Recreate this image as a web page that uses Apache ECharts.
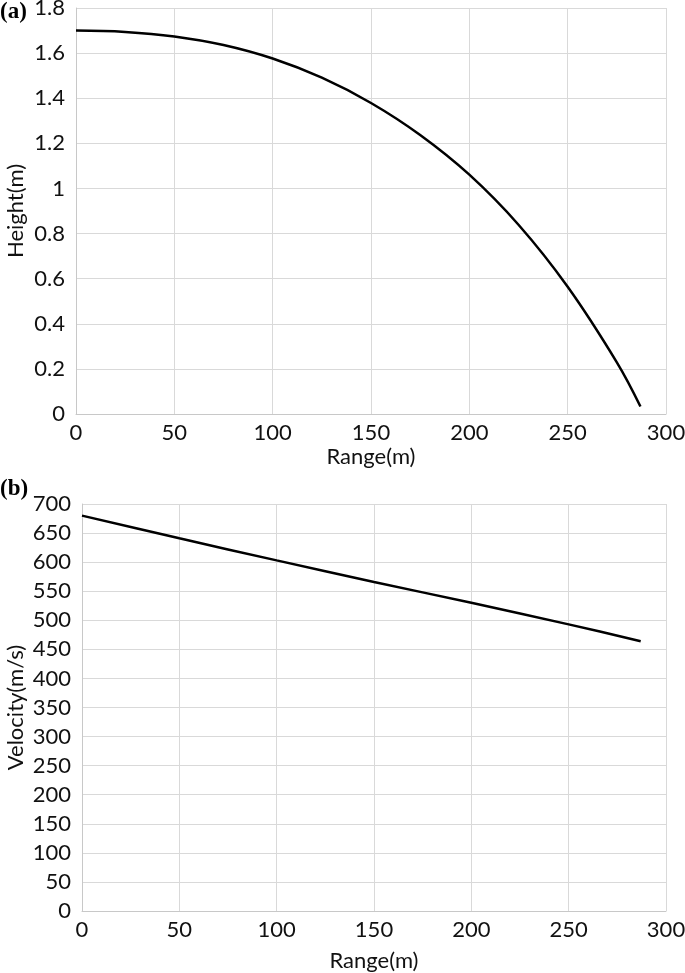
<!DOCTYPE html>
<html>
<head>
<meta charset="utf-8">
<script src="https://cdn.jsdelivr.net/npm/echarts@6/dist/echarts.min.js"></script>
<style>
html,body{margin:0;padding:0;background:#fff;}
#c{width:685px;height:973px;}
</style>
</head>
<body>
<div id="c"></div>
<script>
// Panel (a): height vs range
const heightRange = [0, 25, 50, 75, 100, 125, 150, 175, 200, 225, 250, 275, 287];
const heightVals  = [1.700, 1.694, 1.674, 1.636, 1.576, 1.491, 1.379, 1.237, 1.061, 0.839, 0.564, 0.229, 0.033];
// Panel (b): velocity vs range
const velRange = [0, 50, 100, 150, 200, 250, 287];
const velVals  = [680, 641, 603, 566, 530, 493, 464];

const FONT = 'Lato';
const FS = 22;
const gridLine = {show:true, lineStyle:{color:'#d9d9d9', width:1}};
const axLine = {show:true, lineStyle:{color:'#c8c8c8', width:1}};
const lbl = {color:'#111', fontFamily:FONT, fontSize:FS};
const nameStyle = {color:'#111', fontFamily:FONT, fontSize:FS};

const chart = echarts.init(document.getElementById('c'), null, {renderer:'canvas'});
chart.setOption({
  animation:false,
  backgroundColor:'#fff',
  grid:[
    {left:76, top:8, right:19, height:406, containLabel:false, outerBoundsMode:'none'},
    {left:82, top:504, right:19, height:407, containLabel:false, outerBoundsMode:'none'}
  ],
  xAxis:[
    {gridIndex:0, type:'value', min:0, max:300, interval:50,
     axisLine:axLine, axisTick:{show:false}, splitLine:gridLine,
     axisLabel:Object.assign({margin:8}, lbl), nameMoveOverlap:false,
     name:'Range(m)', nameLocation:'middle', nameGap:32, nameTextStyle:nameStyle},
    {gridIndex:1, type:'value', min:0, max:300, interval:50,
     axisLine:axLine, axisTick:{show:false}, splitLine:gridLine,
     axisLabel:Object.assign({margin:8}, lbl), nameMoveOverlap:false,
     name:'Range(m)', nameLocation:'middle', nameGap:39, nameTextStyle:nameStyle}
  ],
  yAxis:[
    {gridIndex:0, type:'value', min:0, max:1.8, interval:0.2,
     axisLine:axLine, axisTick:{show:false}, splitLine:gridLine,
     axisLabel:Object.assign({margin:11, formatter:v=>String(+v.toFixed(1))}, lbl), nameMoveOverlap:false,
     name:'Height(m)', nameLocation:'middle', nameGap:49, nameTextStyle:nameStyle},
    {gridIndex:1, type:'value', min:0, max:700, interval:50,
     axisLine:axLine, axisTick:{show:false}, splitLine:gridLine,
     axisLabel:Object.assign({margin:11}, lbl), nameMoveOverlap:false,
     name:'Velocity(m/s)', nameLocation:'middle', nameGap:55, nameTextStyle:nameStyle}
  ],
  series:[
    {type:'line', xAxisIndex:0, yAxisIndex:0, smooth:0.4, showSymbol:false,
     lineStyle:{color:'#000', width:2.5},
     data:heightRange.map((x,i)=>[x, heightVals[i]])},
    {type:'line', xAxisIndex:1, yAxisIndex:1, smooth:0.3, showSymbol:false,
     lineStyle:{color:'#000', width:2.5},
     data:velRange.map((x,i)=>[x, velVals[i]])}
  ],
  graphic:[
    {type:'text', left:0, top:1, style:{text:'(a)', font:'bold 23px "Liberation Serif"', fill:'#000'}},
    {type:'text', left:0, top:478, style:{text:'(b)', font:'bold 23px "Liberation Serif"', fill:'#000'}}
  ]
});
</script>
</body>
</html>
